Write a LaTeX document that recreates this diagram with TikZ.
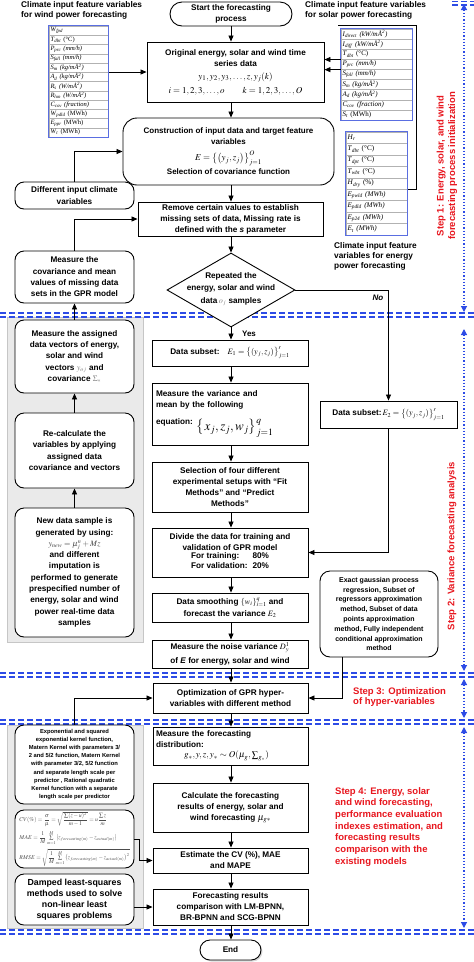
\documentclass[tikz,border=0pt]{standalone}
\usepackage{amsmath}
\usepackage{mathptmx}
\usepackage{fontspec}
\setmainfont{Liberation Serif}
\setsansfont{Liberation Sans}
\usetikzlibrary{arrows.meta,shapes.geometric,fit,calc,shadows}
\definecolor{stepred}{RGB}{232,22,30}
\definecolor{sepblue}{RGB}{45,75,230}
\definecolor{tabblue}{RGB}{90,110,225}
\definecolor{panelgray}{RGB}{234,234,234}
\newcommand\vv[2]{\textit{#1}\textsubscript{\textit{#2}}}
\newcommand\bfs[2]{\sffamily\bfseries\fontsize{#1}{#2}\selectfont}
\begin{document}
\begin{tikzpicture}[x=1pt,y=-1pt,
  arr/.style={-{Triangle[length=6pt,width=5pt]}, line width=0.8pt},
  mbox/.style={draw, fill=white, line width=0.9pt, align=center, inner sep=1pt, font=\bfs{8.2}{11}},
  rbox/.style={mbox, rounded corners=9pt},
  lbox/.style={rbox, minimum width=119, font=\bfs{8.2}{11.3}},
  wcell/.style={draw=gray!60, line width=0.4pt, inner xsep=1.5pt, inner ysep=0pt, minimum width=59, minimum height=9.25, text width=56, align=left, font=\fontsize{6.5}{7}\selectfont},
  scell/.style={draw=gray!60, line width=0.4pt, inner xsep=1.5pt, inner ysep=0pt, minimum width=71, minimum height=10.11, text width=68, align=left, font=\fontsize{7}{7.5}\selectfont},
  ecell/.style={draw=gray!60, line width=0.4pt, inner xsep=1.5pt, inner ysep=0pt, minimum width=61, minimum height=11.44, text width=58, align=left, font=\fontsize{7.2}{8}\selectfont},
  tabframe/.style={draw=tabblue, line width=1.2pt, inner sep=0pt},
  lab/.style={align=left, font=\bfs{8.3}{10}, inner sep=0pt, anchor=north west},
  steplab/.style={text=stepred, font=\bfs{9.5}{11.5}, align=left, inner sep=0pt},
  sepline/.style={draw=sepblue, line width=1.3pt, dash pattern=on 6pt off 3pt},
  steparr/.style={draw=sepblue, line width=1.2pt, dotted, {Triangle[length=6pt,width=6pt]}-{Triangle[length=6pt,width=6pt]}},
]
\useasboundingbox (0,0) rectangle (474,962);
\fill[white] (0,0) rectangle (474,962);

% gray panels
\filldraw[fill=panelgray, draw=gray!45, line width=0.6pt] (7,317) rectangle (143,642);
\filldraw[fill=panelgray, draw=gray!45, line width=0.6pt] (7,725) rectangle (143,928);

% separators
\foreach \yy in {315,675,722,932} {
  \draw[sepline] (0,\yy-2) -- (474,\yy-2);
  \draw[sepline] (0,\yy+2) -- (474,\yy+2);
}
\draw[sepline] (452,1.5) -- (474,1.5);
\draw[sepline] (452,5) -- (474,5);

\coordinate (col) at (231,0);

% main column
\node[rbox, rounded corners=12pt, minimum width=122, minimum height=24] (start) at (231,14) {Start the forecasting\\process};
\node[mbox, minimum width=177, minimum height=60] (orig) at (235.5,72) {Original energy, solar and wind time\\series data\\[2pt]
  \fontsize{9}{11}\selectfont$y_1,y_2,y_3,\dots,z,y_j(k)$\\[3pt]
  \fontsize{9}{11}\selectfont$i=1,2,3,\dots,o\qquad k=1,2,3,\dots,O$};
\node[mbox, rounded corners=14pt, minimum width=211, minimum height=67, font=\bfs{8}{11}] (constr) at (228.5,151.5) {Construction of input data and target feature\\variables\\[5pt]
  \fontsize{9}{12}\selectfont$E=\left\{\left(y_j,z_j\right)\right\}_{j=1}^{O}$\\[3pt]
  Selection of covariance function};
\node[mbox, minimum width=185, minimum height=34] (remove) at (230.5,219) {Remove certain values to establish\\missing sets of data, Missing rate is\\defined with the \textit{s} parameter};
\node[draw, diamond, fill=white, line width=0.9pt, minimum width=128, minimum height=74, inner sep=0pt] (dia) at (231,290) {};
\node[font=\bfs{8.2}{12.5}, align=center, inner sep=0pt] (diatext) at (231,289) {Repeated the\\energy, solar and wind\\data\,{\color{gray}$o_j$} samples};

\node[mbox, minimum width=156, minimum height=26] (e1) at (230,353) {Data subset:\quad $E_1=\left\{\left(y_j,z_j\right)\right\}_{j=1}^{r}$};
\node[mbox, minimum width=156, minimum height=62, text width=148, align=left] (mvar) at (230,414) {Measure the variance and\\mean by the following\\[6pt]equation: \raisebox{-6pt}{\fontsize{13}{13}\selectfont$\left\{x_j,z_j,w_j\right\}_{j=1}^{q}$}};
\node[mbox, minimum width=156, minimum height=50] (sel) at (230,487) {Selection of four different\\experimental setups with “Fit\\Methods” and “Predict\\Methods”};
\node[mbox, minimum width=156, minimum height=49] (div) at (230,552.5) {Divide the data for training and\\validation of GPR model\\
  \begin{tabular}{@{}l@{\hspace{5pt}}r@{}}For training: & 80\%\\[-1.5pt] For validation: & 20\%\end{tabular}};
\node[mbox, minimum width=156, minimum height=29] (smooth) at (230,607.5) {Data smoothing $\{w_i\}_{i=1}^{q}$ and\\[1pt]forecast the variance $E_2$};
\node[mbox, minimum width=156, minimum height=28] (noise) at (230,654) {Measure the noise variance $D_y^1$\\[3pt]of \textit{E} for energy, solar and wind};
\node[mbox, minimum width=155, minimum height=30] (optim) at (230.5,698) {Optimization of GPR hyper-\\variables with different method};
\node[mbox, minimum width=155, minimum height=38, text width=149, align=left] (fdist) at (230.5,746) {Measure the forecasting\\distribution:\\[-1pt]
  \hspace*{28pt}\fontsize{9}{10}\selectfont$g_*,y,z,y_*\sim O(\mu_g,\sum_{g_*})$};
\node[mbox, minimum width=155, minimum height=49] (calcb) at (230.5,807.5) {Calculate the forecasting\\results of energy, solar and\\wind forecasting \fontsize{9.5}{11}\selectfont$\mu_{g*}$};
\node[mbox, minimum width=155, minimum height=25] (est) at (230.5,860.5) {Estimate the CV (\%), MAE\\and MAPE};
\node[mbox, minimum width=155, minimum height=36] (res) at (230.5,907) {Forecasting results\\comparison with LM-BPNN,\\BR-BPNN and SCG-BPNN};
\node[mbox, rounded corners=10pt, minimum width=61, minimum height=20, drop shadow={shadow xshift=1.5pt, shadow yshift=-1.5pt, fill=gray!60}] (endb) at (230.5,950) {End};

% right column
\node[mbox, minimum width=137, minimum height=27] (e2) at (388.5,414.5) {Data subset:$\,E_2=\left\{\left(y_j,z_j\right)\right\}_{j=1}^{r}$};
\node[rbox, rounded corners=10pt, minimum width=118, minimum height=86, font=\bfs{7}{9.8}] (exact) at (379,614) {Exact gaussian process\\regression, Subset of\\regressors approximation\\method, Subset of data\\points approximation\\method, Fully independent\\conditional approximation\\method};

% left column
\node[lbox, minimum height=27] (diffclim) at (74.5,195.5) {Different input climate\\variables};
\node[lbox, minimum height=52] (meascov) at (74.5,277) {Measure the\\covariance and mean\\values of missing data\\sets in the GPR model};
\node[lbox, minimum height=73] (assigned) at (74.5,356.5) {Measure the assigned\\data vectors of energy,\\solar and wind\\vectors {\color{gray}$y_{oj}$} and\\covariance {\color{gray}$\Sigma_*$}};
\node[lbox, minimum height=75] (recalc) at (74.5,450.5) {Re-calculate the\\variables by applying\\assigned data\\covariance and vectors};
\node[lbox, minimum height=129] (newdata) at (74.5,572.5) {New data sample is\\generated by using:\\
  {\color{black!75}$y_{new}=\mu_j^n+Mz$}\\and different\\imputation is\\performed to generate\\prespecified number of\\energy, solar and wind\\power real-time data\\samples};
\node[lbox, minimum height=79, font=\bfs{5.8}{8.2}] (kernel) at (74.5,764.5) {Exponential and squared\\exponential kernel function,\\Matern Kernel with parameters 3/\\2 and 5/2 function, Matern Kernel\\with parameter 3/2, 5/2 function\\and separate length scale per\\predictor , Rational quadratic\\Kernel function with a separate\\length scale per predictor};
\node[lbox, minimum height=58, align=left, text=black!70, font=\fontsize{5.8}{6.5}\selectfont] (formula) at (74.5,839) {$CV(\%)=\dfrac{\sigma}{\mu}=\sqrt{\dfrac{\sum(z-u)^2}{m-1}}=u\dfrac{\sum z}{m}$\\[3pt]
  $MAE=\dfrac{1}{M}\sum\limits_{m=1}^{M}\left|z_{forecasting(m)}-z_{actual(m)}\right|$\\[3pt]
  $RMSE=\sqrt{\dfrac{1}{M}\sum\limits_{m=1}^{M}\left(z_{forecasting(m)}-z_{actual(m)}\right)^2}$};
\node[lbox, minimum height=51, font=\bfs{8.8}{11}] (damped) at (74.5,899.5) {Damped least-squares\\methods used to solve\\non-linear least\\squares problems};

% tables
\foreach \t [count=\i] in {{\vv{W}{fpd}},{\vv{T}{dbt} (°C)},{\vv{P}{prc} \textit{(mm/h)}},{\vv{S}{fall} \textit{(mm/h)}},{\vv{S}{m} \textit{(kg/mÅ\textsuperscript{2})}},{\vv{A}{d} \textit{(kg/mÅ\textsuperscript{2})}},{\vv{R}{s} \textit{(W/mÅ\textsuperscript{2})}},{\vv{R}{lon} \textit{(W/mÅ\textsuperscript{2})}},{\vv{C}{cov} \textit{(fraction)}},{\vv{W}{pdld} (MWh)},{\vv{E}{ppr} (MWh)},{\vv{W}{t} (MWh)}}
  \node[wcell] (w\i) at (78.5,{26+(\i-0.5)*9.25}) {\t};
\node[tabframe, fit=(w1)(w12)] (windtab) {};

\foreach \t [count=\i] in {{\vv{I}{direct} \textit{(kW/mÅ\textsuperscript{2})}},{\vv{I}{diff} \textit{(kW/mÅ\textsuperscript{2})}},{\vv{T}{dbt} (°C)},{\vv{P}{prc} \textit{(mm/h)}},{\vv{S}{fall} \textit{(mm/h)}},{\vv{S}{m} \textit{(kg/mÅ\textsuperscript{2})}},{\vv{A}{d} \textit{(kg/mÅ\textsuperscript{2})}},{\vv{C}{cov} \textit{(fraction)}},{\vv{S}{t} (MWh)}}
  \node[scell] (s\i) at (376.5,{29+(\i-0.5)*10.11}) {\t};
\node[tabframe, fit=(s1)(s9)] (soltab) {};

\foreach \t [count=\i] in {{\vv{H}{r}},{\vv{T}{dbt} (°C)},{\vv{T}{dpt} (°C)},{\vv{T}{wbt} (°C)},{\vv{H}{dry} (\%)},{\vv{E}{pwld} \textit{(MWh)}},{\vv{E}{pdld} \textit{(MWh)}},{\vv{E}{p24} \textit{(MWh)}},{\vv{E}{t} \textit{(MWh)}}}
  \node[ecell] (en\i) at (376.5,{132+(\i-0.5)*11.44}) {\t};
\node[tabframe, fit=(en1)(en9)] (entab) {};

\draw[line width=0.8pt] (soltab.north west) ++(-2,-3) coordinate (bk1) -- (bk1 -| 416,0) coordinate (bk2) -- (bk2 |- en5.south) coordinate (bk3) -- (bk3 -| entab.east);

% labels
\node[lab] (windlab) at (21,1.5) {Climate input feature variables\\for wind power forecasting};
\node[lab] (sollab) at (305,1.5) {Climate input feature variables\\for solar power forecasting};
\node[lab] (enlab) at (334,242.5) {Climate input feature\\variables for energy\\power forecasting};
\node[font=\bfs{8}{9}, inner sep=0pt] (yes) at (249,334) {Yes};
\node[font=\sffamily\bfseries\itshape\fontsize{8}{9}\selectfont, inner sep=0pt] (no) at (378,298) {No};

% step labels and arrows
\node[steplab, rotate=90, align=center] (st1) at (447,166) {Step 1: Energy, solar, and wind\\forecasting process initialization};
\node[steplab, rotate=90] (st2) at (452,546) {Step 2: Variance forecasting analysis};
\node[steplab, anchor=north west, font=\bfs{9.5}{10.8}] (st3) at (353,687) {Step 3: Optimization\\of hyper-variables};
\node[steplab, anchor=north west, font=\bfs{9.5}{11.7}] (st4) at (335,787) {Step 4: Energy, solar\\and wind forecasting,\\performance evaluation\\indexes estimation, and\\forecasting results\\comparison with the\\existing models};
\coordinate (s1a) at (464,4); \coordinate (s1b) at (464,312);
\coordinate (s2a) at (464,329); \coordinate (s2b) at (464,671);
\coordinate (s3a) at (464,679); \coordinate (s3b) at (464,718);
\coordinate (s4a) at (464,727); \coordinate (s4b) at (464,928);
\draw[steparr] (s1a) -- (s1b);
\draw[steparr] (s2a) -- (s2b);
\draw[steparr] (s3a) -- (s3b);
\draw[steparr] (s4a) -- (s4b);

% connectors main
\draw[arr] (col |- start.south) -- (col |- orig.north);
\draw[arr] (col |- orig.south) -- (col |- constr.north);
\draw[arr] (col |- constr.south) -- (col |- remove.north);
\draw[arr] (col |- remove.south) -- (dia.north);
\draw[arr] (dia.south) -- (col |- e1.north);
\draw[arr] (col |- e1.south) -- (col |- mvar.north);
\draw[arr] (col |- mvar.south) -- (col |- sel.north);
\draw[arr] (col |- sel.south) -- (col |- div.north);
\draw[arr] (col |- div.south) -- (col |- smooth.north);
\draw[arr] (col |- smooth.south) -- (col |- noise.north);
\draw[arr] (col |- noise.south) -- (col |- optim.north);
\draw[arr] (col |- optim.south) -- (col |- fdist.north);
\draw[arr] (col |- fdist.south) -- (col |- calcb.north);
\draw[arr] (col |- calcb.south) -- (col |- est.north);
\draw[arr] (col |- est.south) -- (col |- res.north);
\draw[arr] (col |- res.south) -- (col |- endb.north);
\draw[arr] (dia.east) -| (e2.north);
\draw[arr] (e2.south) |- (div.east);
% inputs
\draw[arr] (windtab.east |- orig.west) -- (orig.west);
\draw[arr] (s3.south west) -- (s3.south west -| orig.east);
\draw[arr] (s4.south west) -- (s4.south west -| orig.east);
% left side
\draw[arr] (diffclim.north) |- (constr.west);
\draw[arr] (meascov.north) |- (remove.west);
\draw[arr] (assigned.north) -- (meascov.south);
\draw[arr] (recalc.north) -- (assigned.south);
\draw[arr] (newdata.north) -- (recalc.south);
\draw[arr] (kernel.north) |- (optim.west);
\coordinate (exactout) at ($(exact.south west)!0.19!(exact.south east)$);
\draw[arr] (exactout) |- (optim.east);
\draw[arr] (formula.east) -- ++(5,0) |- (est.west);
\draw[arr] (damped.east |- res.west) -- (res.west);
\end{tikzpicture}
\end{document}
